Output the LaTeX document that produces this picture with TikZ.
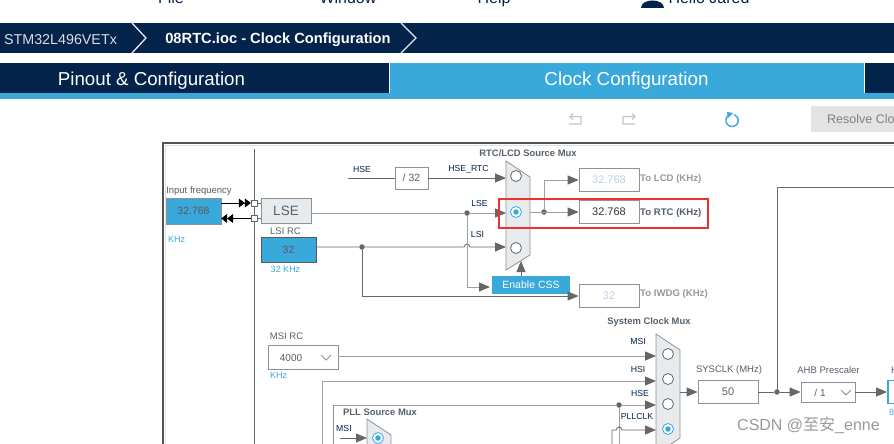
\documentclass[tikz,border=0pt]{standalone}
\usepackage{fontspec}
\setmainfont{Liberation Sans}
\newfontfamily\cjk{Noto Sans CJK SC}
\usetikzlibrary{arrows.meta}
\definecolor{navy}{HTML}{03234B}
\definecolor{skyb}{HTML}{39A9DC}
\definecolor{muxg}{HTML}{E8EBEE}
\definecolor{boxg}{HTML}{8C9196}
\definecolor{lineg}{HTML}{666666}
\definecolor{lightl}{HTML}{A0A0A0}
\definecolor{txtg}{HTML}{55606A}
\definecolor{paleb}{HTML}{BCD0E6}
\definecolor{hilite}{HTML}{EE3030}
\newcommand{\fs}[1]{\fontsize{#1}{#1}\selectfont}
\begin{document}
\begin{tikzpicture}[x=1pt,y=-1pt]
\tikzset{lbl/.style={inner sep=0pt, yshift=-1pt, font=\fs{9.5}, text=txtg},
  sig/.style={inner sep=0pt, yshift=-0.5pt, font=\fs{8.7}, text=navy},
  unit/.style={lbl, font=\fs{9}, text=skyb},
  muxlbl/.style={lbl, font=\bfseries\fs{9.4}},
  outlbl/.style={lbl, font=\bfseries\fs{9.6}, text=gray!80},
  menu/.style={inner sep=0pt, anchor=base, font=\fs{16}, text=navy},
  valbox/.style={draw=boxg, line width=0.8pt, fill=white, inner sep=0pt, font=\fs{11}, text=txtg},
  bluebox/.style={fill=skyb, inner sep=0pt, font=\fs{10.5}, text=black!65},
  muxbody/.style={draw=boxg, line width=0.8pt, fill=muxg},
  ring/.style={draw=lineg, line width=0.8pt, fill=white, circle, minimum size=11pt, inner sep=0pt},
  selring/.style={draw=skyb, line width=0.8pt, fill=white, circle, minimum size=11pt, inner sep=0pt},
  seldot/.style={fill=skyb, circle, minimum size=5.5pt, inner sep=0pt},
  jdot/.style={fill=lineg, circle, minimum size=5.5pt, inner sep=0pt},
  wire/.style={draw=lineg, line width=0.8pt},
  pale/.style={draw=lightl, line width=1pt},
  arr/.style={-{Triangle[length=11pt,width=9pt,color=lineg]}},
  dblarr/.style={draw=black, line width=0.8pt, -{Triangle[length=6pt,width=9pt]Triangle[length=6pt,width=9pt]}}}
\useasboundingbox (0,0) rectangle (894,444);
\clip (0,0) rectangle (894,444);
\fill[white] (0,0) rectangle (894,444);
\node[menu] (mFile) at (171,3.5) {File};
\node[menu] (mWindow) at (348,3.5) {Window};
\node[menu] (mHelp) at (494,3.5) {Help};
\node[menu] (mUser) at (709,3.5) {Hello Jared};
\fill[navy] (641,8) .. controls (641,-2) and (664,-2) .. (664,8) -- cycle;
\fill[navy] (0,23) rectangle (894,53);
\draw[white!90!navy, line width=1.3pt] (132,23) -- (146,38) -- (132,53);
\draw[white!90!navy, line width=1.3pt] (401,23) -- (416,38) -- (401,53);
\node[inner sep=0pt, font=\fs{14.3}, text=white!85!navy] (crumbA) at (60.5,40) {STM32L496VETx};
\node[inner sep=0pt, font=\bfseries\fs{14.7}, text=white] (crumbB) at (278,40) {08RTC.ioc - Clock Configuration};
\fill[skyb] (0,93) rectangle (894,99);
\fill[navy] (0,63) rectangle (389,93);
\fill[skyb] (390,63) rectangle (864,93);
\fill[navy] (865,63) rectangle (894,93);
\node[inner sep=0pt, font=\fs{18.7}, text=white] (tabA) at (151.5,81) {Pinout \& Configuration};
\node[inner sep=0pt, font=\fs{18.8}, text=white] (tabB) at (626.5,81) {Clock Configuration};
\draw[gray!45, line width=1.3pt] (573,113.5) -- (570,116.5) -- (573,119.5) (570,116.5) -- (581,116.5) -- (581,124) -- (569,124);
\draw[gray!45, line width=1.3pt] (632,113.5) -- (635,116.5) -- (632,119.5) (635,116.5) -- (623,116.5) -- (623,124) -- (635,124);
\draw[skyb, line width=1.4pt] (729,115) arc (240:-70:6.2);
\fill[skyb] (727,112) -- (733,113) -- (728,118) -- cycle;
\node[fill=black!11, inner sep=0pt, minimum width=90pt, minimum height=26pt, anchor=north west] (resolve) at (811,106) {};
\node[inner sep=0pt, font=\fs{12.5}, text=gray, anchor=west] (resolveT) at (827,119) {Resolve Clock Issues};
\draw[draw=black!68, line width=2.8pt] (900,143) -- (163,143) -- (163,450);
\draw[draw=black!12, line width=0.8pt] (900,145) -- (165,145) -- (165,450);
\draw[wire] (254,149) -- (254,450);
\draw[wire] (777,392) -- (777,187) -- (900,187);
\node[lbl] (inlab) at (199,190.5) {Input frequency};
\node[bluebox, draw=boxg, minimum width=55pt, minimum height=26pt] (INF) at (193.5,211) {32.768};
\node[unit] (infu) at (176.5,238) {KHz};
\node[draw=lineg, fill=white, minimum size=6pt, inner sep=0pt] (SqA) at (254,203) {};
\node[draw=lineg, fill=white, minimum size=6pt, inner sep=0pt] (SqB) at (254,218.5) {};
\node[draw=boxg, line width=0.8pt, fill=muxg, inner sep=0pt, minimum width=50pt, minimum height=25pt, font=\fs{13.5}, text=txtg] (LSE) at (286,210.5) {LSE};
\node[lbl] (lsilab) at (285.5,230.5) {LSI RC};
\node[bluebox, draw=black!65, line width=0.8pt, minimum width=55pt, minimum height=25pt] (LSI) at (288.5,249.5) {32};
\node[unit] (lsiu) at (285.5,268.5) {32 KHz};
\coordinate (Ia) at (SqA.west);
\coordinate (Ib) at (SqB.west);
\draw[dblarr] (INF.east |- Ia) -- (Ia);
\draw[dblarr] (Ib) -- (INF.east |- Ib);
\draw[wire] (SqA.east) -- (LSE.west |- SqA);
\draw[wire] (SqB.east) -- (LSE.west |- SqB);
\node[sig] (hselab) at (362,169) {HSE};
\coordinate (HSEa) at (348,178);
\node[valbox, minimum width=33pt, minimum height=22pt, font=\fs{10.5}] (DIV) at (411.5,178) {/ 32};
\node[sig] (hsertc) at (468.5,169) {HSE\_RTC};
\node[muxlbl] (rtcmux) at (528,152.5) {RTC/LCD Source Mux};
\node[sig] (lselab) at (479.5,203.5) {LSE};
\node[sig] (lsilb) at (477.5,234.5) {LSI};
\coordinate (Ma) at (506,178);
\coordinate (Mb) at (506,213);
\coordinate (Mc) at (506,247);
\coordinate (Md) at (530,212);
\coordinate (Ce) at (490,287);
\node[jdot] (Da) at (467,213) {};
\node[jdot] (Db) at (362,247) {};
\node[jdot] (Dc) at (544,212) {};
\node[fill=skyb, inner sep=0pt, minimum width=78pt, minimum height=18pt, font=\fs{10.5}, text=white] (CSS) at (531,285) {Enable CSS};
\node[valbox, minimum width=60pt, minimum height=23pt, text=paleb] (LCD) at (609,180) {32.768};
\node[valbox, minimum width=60pt, minimum height=23pt, text=black!80] (RTC) at (609,212) {32.768};
\node[valbox, minimum width=60pt, minimum height=23pt, text=paleb] (IWDG) at (609,296) {32};
\node[outlbl, anchor=west] (lcdl) at (640,178) {To LCD (KHz)};
\node[outlbl, anchor=west, text=txtg] (rtcl) at (640,212) {To RTC (KHz)};
\node[outlbl, anchor=west] (iwdl) at (640,293.5) {To IWDG (KHz)};
\draw[wire] (HSEa) -- (DIV.west);
\draw[wire, arr] (DIV.east) -- (Ma);
\draw[pale, arr] (LSE.east |- Da) -- (Da) -- (Mb);
\draw[wire, arr] (LSI.east |- Db) -- (Db) -- (464,247) .. controls (465,243) and (469,243) .. (470,247) -- (Mc);
\draw[wire, arr] (Db) |- (IWDG.west);
\draw[pale, arr] (Da) |- (Ce);
\draw[wire, arr] (CSS.north -| 521,276) -- (521,261);
\draw[pale, arr] (Md) -- (RTC.west);
\draw[pale, arr] (Dc) |- (LCD.west);
\draw[muxbody] (506,161) -- (530,177) -- (530,255) -- (506,270) -- cycle;
\node[ring] (Ra) at (516,176) {};
\node[selring] (Rb) at (516,212) {};
\node[seldot] (Rbd) at (516,212) {};
\node[ring] (Rc) at (516,248) {};
\draw[draw=hilite, line width=2.6pt] (499,199) rectangle (708,228);
\node[lbl] (msilab) at (286.5,335.5) {MSI RC};
\node[valbox, minimum width=70pt, minimum height=24pt] (MSI) at (303,357.5) {};
\node[inner sep=0pt, font=\fs{10}, text=txtg] (msiv) at (291,358) {4000};
\draw[boxg, line width=0.8pt] (321,355) -- (326,360) -- (331,355);
\node[unit] (msiu) at (278.5,374) {KHz};
\node[sig] (msil) at (638,341) {MSI};
\node[sig] (hsil) at (638,369) {HSI};
\node[sig] (hsel) at (640,393) {HSE};
\node[sig] (pll) at (637,416) {PLLCLK};
\node[muxlbl] (sysmux) at (649,321) {System Clock Mux};
\coordinate (Sa) at (656,356);
\coordinate (Sb) at (656,381);
\coordinate (Sc) at (656,405);
\coordinate (Sd) at (656,430);
\coordinate (He) at (322,381);
\coordinate (Hf) at (322,450);
\coordinate (Se) at (333,405);
\coordinate (Sf) at (333,450);
\coordinate (Pa) at (612,450);
\coordinate (Pb) at (612,430);
\coordinate (Ph) at (619,450);
\node[jdot] (Dd) at (619,405) {};
\draw[pale, arr] (MSI.east |- Sa) -- (Sa);
\draw[pale, arr] (Hf) -- (He) -- (Sb);
\draw[pale, arr] (Sf) -- (Se) -- (Dd) -- (Sc);
\draw[pale] (Dd) -- (Ph);
\draw[wire, arr] (Pa) -- (Pb) -- (616,430) .. controls (617,426) and (621,426) .. (622,430) -- (Sd);
\draw[muxbody] (656,334) -- (680,350) -- (680,438) -- (656,454) -- cycle;
\node[ring] (Ua) at (668,354) {};
\node[ring] (Ub) at (668,379) {};
\node[ring] (Uc) at (668,404) {};
\node[selring] (Ud) at (668,429) {};
\node[seldot] (Udd) at (668,429) {};
\node[lbl] (sysl) at (729,369) {SYSCLK (MHz)};
\node[valbox, minimum width=60pt, minimum height=23pt] (SYS) at (728,392) {50};
\node[lbl] (ahbl) at (828.5,369) {AHB Prescaler};
\node[valbox, minimum width=54pt, minimum height=20pt] (AHB) at (828,392) {};
\node[inner sep=0pt, font=\fs{10}, text=txtg] (ahbv) at (820,393) {/ 1};
\draw[boxg, line width=0.8pt] (841,390) -- (846,395) -- (851,390);
\node[draw=skyb, line width=1.6pt, fill=white, inner sep=0pt, minimum width=60pt, minimum height=23pt, anchor=west] (HCLK) at (887,392) {};
\node[lbl, anchor=west] (hcl) at (891,369) {HCLK};
\node[unit, anchor=west] (hcu) at (889,411.5) {80};
\coordinate (Oa) at (680,392);
\node[jdot] (De) at (777,392) {};
\draw[wire, arr] (Oa) -- (SYS.west);
\draw[wire, arr] (SYS.east) -- (De) -- (AHB.west);
\draw[wire, arr] (AHB.east) -- (HCLK.west);
\node[muxlbl] (pllmux) at (380,411.5) {PLL Source Mux};
\draw[draw=boxg, line width=0.8pt] (Se) -- (Sf);
\node[sig, anchor=west] (pmsi) at (336,428) {MSI};
\coordinate (Pi) at (340,438);
\coordinate (Pj) at (367,438);
\draw[wire, arr] (Pi) -- (Pj);
\draw[muxbody] (367,419) -- (391,435) -- (391,470) -- (367,470) -- cycle;
\node[selring] (Va) at (378,438) {};
\node[seldot] (Vb) at (378,438) {};
\node[inner sep=0pt, font=\fs{16}, text=gray, opacity=0.8, anchor=west] (mark) at (737,425) {CSDN @{\cjk 至安}\_enne};
\end{tikzpicture}
\end{document}
